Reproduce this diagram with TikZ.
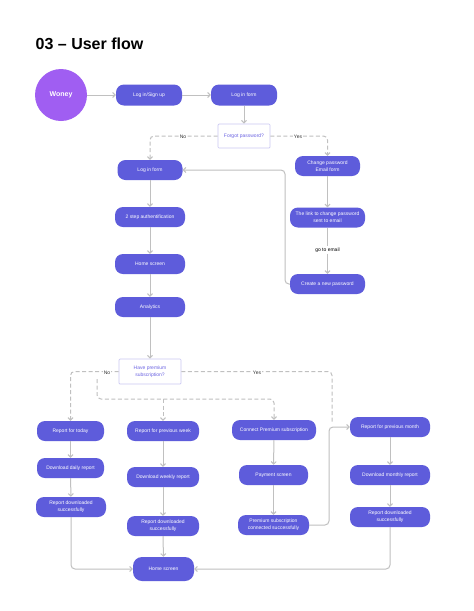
\documentclass[tikz,border=0pt]{standalone}
\usepackage{fontspec}
\setmainfont{Liberation Sans}
\usetikzlibrary{arrows.meta}
\definecolor{boxc}{HTML}{5E5CDB}
\definecolor{woneyc}{HTML}{A05EF2}
\definecolor{linec}{HTML}{C0C0C0}
\definecolor{decb}{HTML}{CBC7F3}
\definecolor{dect}{HTML}{6B63E2}
\definecolor{labc}{HTML}{333333}
\tikzset{
  flowbox/.style={draw=none, fill=boxc, text=white, rounded corners=8pt, inner sep=0pt,
    minimum height=20pt, align=center, font=\fontsize{5}{6.7}\selectfont},
  decbox/.style={draw=decb, line width=0.7pt, fill=white, text=dect, rounded corners=1pt, inner sep=0pt,
    align=center, font=\fontsize{5}{6.7}\selectfont},
  conn/.style={draw=linec, line width=1pt, -{Straight Barb[length=2.5pt,width=5pt]}, rounded corners=4pt},
  dconn/.style={draw=linec, line width=1pt, dash pattern=on 4pt off 2.5pt, rounded corners=4pt},
  lbl/.style={fill=white, inner sep=1pt, text=labc, font=\fontsize{5}{6}\selectfont},
}
\begin{document}
\begin{tikzpicture}[x=1pt,y=-1pt]
\useasboundingbox (0,0) rectangle (474,611);
\fill[white] (0,0) rectangle (474,611);
\node[anchor=base west, font=\fontsize{16}{19}\selectfont\bfseries, inner sep=0pt] (title) at (35.5,49.5) {03 – User flow};

\node[circle, fill=woneyc, minimum size=52pt, inner sep=0pt, text=white, font=\fontsize{7}{8}\selectfont\bfseries] (woney) at (61,95) {Woney};
\node[flowbox, minimum width=66pt, minimum height=21pt] (signup) at (149,95) {Log in/Sign up};
\node[flowbox, minimum width=66pt, minimum height=21pt] (form1) at (244,95) {Log in form};
\node[decbox, minimum width=52pt, minimum height=24pt] (forgot) at (244,136) {Forgot password?};

\node[flowbox, minimum width=65pt] (login2) at (150,170) {Log in form};
\node[flowbox, minimum width=70pt] (twostep) at (150,217) {2 step authentification};
\node[flowbox, minimum width=70pt] (home1) at (150,264) {Home screen};
\node[flowbox, minimum width=70pt] (analytics) at (150,307) {Analytics};

\node[flowbox, minimum width=65pt] (changepw) at (327.5,166) {Change password\\Email form};
\node[flowbox, minimum width=75pt] (link) at (327.5,217.5) {The link to change password\\sent to email};
\node[lbl, text=black] (goto) at (327.5,250) {go to email};
\node[flowbox, minimum width=75pt] (create) at (327.5,284) {Create a new password};

\node[decbox, minimum width=62pt, minimum height=25pt] (premium) at (150,371.5) {Have premium\\subscription?};

\node[flowbox, minimum width=67pt] (today) at (70.5,431) {Report for today};
\node[flowbox, minimum width=67pt] (daily) at (70.5,468) {Download daily report};
\node[flowbox, minimum width=70pt] (succ1) at (71,507) {Report downloaded\\successfully};

\node[flowbox, minimum width=72pt] (week) at (163,431) {Report for previous week};
\node[flowbox, minimum width=72pt] (weekly) at (163,477) {Download weekly report};
\node[flowbox, minimum width=72pt] (succ2) at (163,526) {Report downloaded\\successfully};
\node[flowbox, minimum width=61pt, minimum height=24pt, rounded corners=9pt] (home2) at (163.5,569) {Home screen};

\node[flowbox, minimum width=84pt] (connect) at (274,430) {Connect Premium subscription};
\node[flowbox, minimum width=69pt] (payment) at (273.5,475) {Payment screen};
\node[flowbox, minimum width=71pt] (premconn) at (273.5,525) {Premium subscription\\connected successfully};

\node[flowbox, minimum width=80pt] (month) at (390,427) {Report for previous month};
\node[flowbox, minimum width=80pt] (monthly) at (390,475) {Download monthly report};
\node[flowbox, minimum width=80pt] (succ3) at (390,517) {Report downloaded\\successfully};

% top connectors
\draw[conn] (woney) -- (signup);
\draw[conn] (signup) -- (form1);
\draw[conn] (form1) -- (forgot);
\draw[dconn, -{Straight Barb[length=2.5pt,width=5pt]}] (forgot.west) -| (login2.north);
\node[lbl] (no1) at (183,136.5) {No};
\draw[dconn, -{Straight Barb[length=2.5pt,width=5pt]}] (forgot.east) -| (changepw.north);
\node[lbl] (yes1) at (298,136.5) {Yes};

\draw[conn] (login2) -- (twostep);
\draw[conn] (twostep) -- (home1);
\draw[conn] (home1) -- (analytics);
\draw[conn] (analytics) -- (premium);

\draw[conn] (changepw) -- (link);
\draw[draw=linec, line width=1pt] (link) -- (goto);
\draw[conn] (goto) -- (create);
\coordinate (cw) at (285,284);
\draw[conn] (create.west) -- (cw) |- (login2.east);

% premium decision
\draw[dconn, -{Straight Barb[length=2.5pt,width=5pt]}] (premium.west) -| (today.north);
\node[lbl] (no2) at (107,372.5) {No};
\coordinate (nb) at (97,379);
\coordinate (nj) at (97,399);
\draw[dconn, -{Straight Barb[length=2.5pt,width=5pt]}] (nb) -- (nj) -| (connect.north);
\draw[dconn, -{Straight Barb[length=2.5pt,width=5pt]}] (week.north |- nj) -- (week.north);
\coordinate (ye) at (332,423);
\draw[dconn] (premium.east) -| (ye);
\node[lbl] (yes2) at (257,372.5) {Yes};

% columns
\draw[conn] (today) -- (daily);
\draw[conn] (daily) -- (succ1);
\draw[conn] (week) -- (weekly);
\draw[conn] (weekly) -- (succ2);
\draw[conn] (succ2) -- (home2);
\draw[conn] (connect) -- (payment);
\draw[conn] (payment) -- (premconn);
\draw[conn] (month) -- (monthly);
\draw[conn] (monthly) -- (succ3);
\coordinate (pc) at (329,525);
\draw[conn] (premconn.east) -- (pc) |- (month.west);
\draw[conn] (succ1.south) |- (home2.west);
\draw[conn] (succ3.south) |- (home2.east);
\end{tikzpicture}
\end{document}
